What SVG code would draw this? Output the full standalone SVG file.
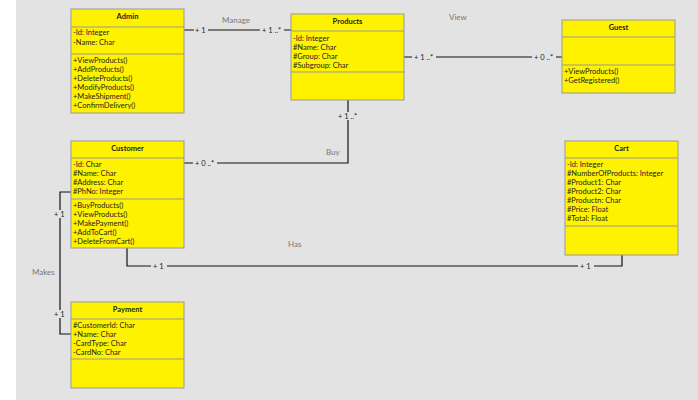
<svg xmlns="http://www.w3.org/2000/svg" width="698" height="400" viewBox="0 0 698 400">
<style>
.box{fill:#fff200;stroke:#999;stroke-width:1}
.sep{stroke:#999;stroke-width:1}
text{font-family:Lato,"Liberation Sans",sans-serif;font-size:7.5px;fill:#222}
.t{font-weight:bold;text-anchor:middle}
.lbl{fill:#777;font-size:8px}
.m{font-size:7px}
.c{fill:none;stroke:#111;stroke-width:1.2}
.g{fill:#e3e3e3}
</style>
<rect x="0" y="0" width="698" height="400" fill="#fff"/>
<rect x="16" y="0" width="682" height="400" fill="#e3e3e3"/>
<g id="connectors">
<path class="c" d="M184 30H291"/>
<path class="c" d="M404 57H562"/>
<path class="c" d="M348 100V163H184"/>
<path class="c" d="M127 248V266H622V255"/>
<path class="c" d="M71 192H60V334H71"/>
<g class="m">
<rect class="g" x="194" y="26" width="14" height="8"/><text x="195" y="32.5">+ 1</text>
<rect class="g" x="260" y="26" width="24" height="8"/><text x="262" y="32.5">+ 1 ..*</text>
<rect class="g" x="412" y="53" width="24" height="8"/><text x="414" y="59.5">+ 1 ..*</text>
<rect class="g" x="532" y="53" width="24" height="8"/><text x="534" y="59.5">+ 0 ..*</text>
<rect class="g" x="336" y="112" width="24" height="8"/><text x="338" y="118.5">+ 1 ..*</text>
<rect class="g" x="193" y="159" width="24" height="8"/><text x="195" y="165.5">+ 0 ..*</text>
<rect class="g" x="151" y="262" width="16" height="8"/><text x="153" y="268.5">+ 1</text>
<rect class="g" x="578" y="262" width="16" height="8"/><text x="580" y="268.5">+ 1</text>
<rect class="g" x="53" y="210" width="14" height="8"/><text x="54" y="216.5">+ 1</text>
<rect class="g" x="53" y="310" width="14" height="8"/><text x="54" y="316.5">+ 1</text>
</g>
<text class="lbl" x="222" y="23">Manage</text>
<text class="lbl" x="449" y="20">View</text>
<text class="lbl" x="326" y="155">Buy</text>
<text class="lbl" x="288" y="247">Has</text>
<text class="lbl" x="32" y="275">Makes</text>
</g>
<g id="admin">
<rect class="box" x="71" y="9" width="113" height="104"/>
<line class="sep" x1="71" y1="27" x2="184" y2="27"/><line class="sep" x1="71" y1="54" x2="184" y2="54"/>
<text class="t" x="127.5" y="19">Admin</text>
<text x="73" y="35">-Id: Integer</text><text x="73" y="44.5">-Name: Char</text>
<text x="73" y="62.5">+ViewProducts()</text><text x="73" y="71.5">+AddProducts()</text><text x="73" y="80.5">+DeleteProducts()</text><text x="73" y="89.5">+ModifyProducts()</text><text x="73" y="98.5">+MakeShipment()</text><text x="73" y="107.5">+ConfirmDelivery()</text>
</g>
<g id="products">
<rect class="box" x="291" y="14" width="113" height="86"/>
<line class="sep" x1="291" y1="31" x2="404" y2="31"/><line class="sep" x1="291" y1="72" x2="404" y2="72"/>
<text class="t" x="347.5" y="24">Products</text>
<text x="293" y="40.5">-Id: Integer</text><text x="293" y="49.5">#Name: Char</text><text x="293" y="58.5">#Group: Char</text><text x="293" y="67.5">#Subgroup: Char</text>
</g>
<g id="guest">
<rect class="box" x="562" y="20" width="113" height="73"/>
<line class="sep" x1="562" y1="37" x2="675" y2="37"/><line class="sep" x1="562" y1="65" x2="675" y2="65"/>
<text class="t" x="618.5" y="29.5">Guest</text>
<text x="564" y="74">+ViewProducts()</text><text x="564" y="83">+GetRegistered()</text>
</g>
<g id="customer">
<rect class="box" x="71" y="141" width="113" height="107"/>
<line class="sep" x1="71" y1="158" x2="184" y2="158"/><line class="sep" x1="71" y1="199" x2="184" y2="199"/>
<text class="t" x="127.5" y="151">Customer</text>
<text x="73" y="167">-Id: Char</text><text x="73" y="176">#Name: Char</text><text x="73" y="185">#Address: Char</text><text x="73" y="194">#PhNo: Integer</text>
<text x="73" y="207.5">+BuyProducts()</text><text x="73" y="216.5">+ViewProducts()</text><text x="73" y="225.5">+MakePayment()</text><text x="73" y="234.5">+AddToCart()</text><text x="73" y="243.5">+DeleteFromCart()</text>
</g>
<g id="cart">
<rect class="box" x="565" y="141" width="113" height="114"/>
<line class="sep" x1="565" y1="158" x2="678" y2="158"/><line class="sep" x1="565" y1="226" x2="678" y2="226"/>
<text class="t" x="621.5" y="151">Cart</text>
<text x="567" y="167">-Id: Integer</text><text x="567" y="176">#NumberOfProducts: Integer</text><text x="567" y="185">#Product1: Char</text><text x="567" y="194">#Product2: Char</text><text x="567" y="203">#Productn: Char</text><text x="567" y="212">#Price: Float</text><text x="567" y="221">#Total: Float</text>
</g>
<g id="payment">
<rect class="box" x="71" y="302" width="113" height="86"/>
<line class="sep" x1="71" y1="319" x2="184" y2="319"/><line class="sep" x1="71" y1="359" x2="184" y2="359"/>
<text class="t" x="127.5" y="312">Payment</text>
<text x="73" y="328">#CustomerId: Char</text><text x="73" y="337">+Name: Char</text><text x="73" y="346">-CardType: Char</text><text x="73" y="355">-CardNo: Char</text>
</g>
</svg>
